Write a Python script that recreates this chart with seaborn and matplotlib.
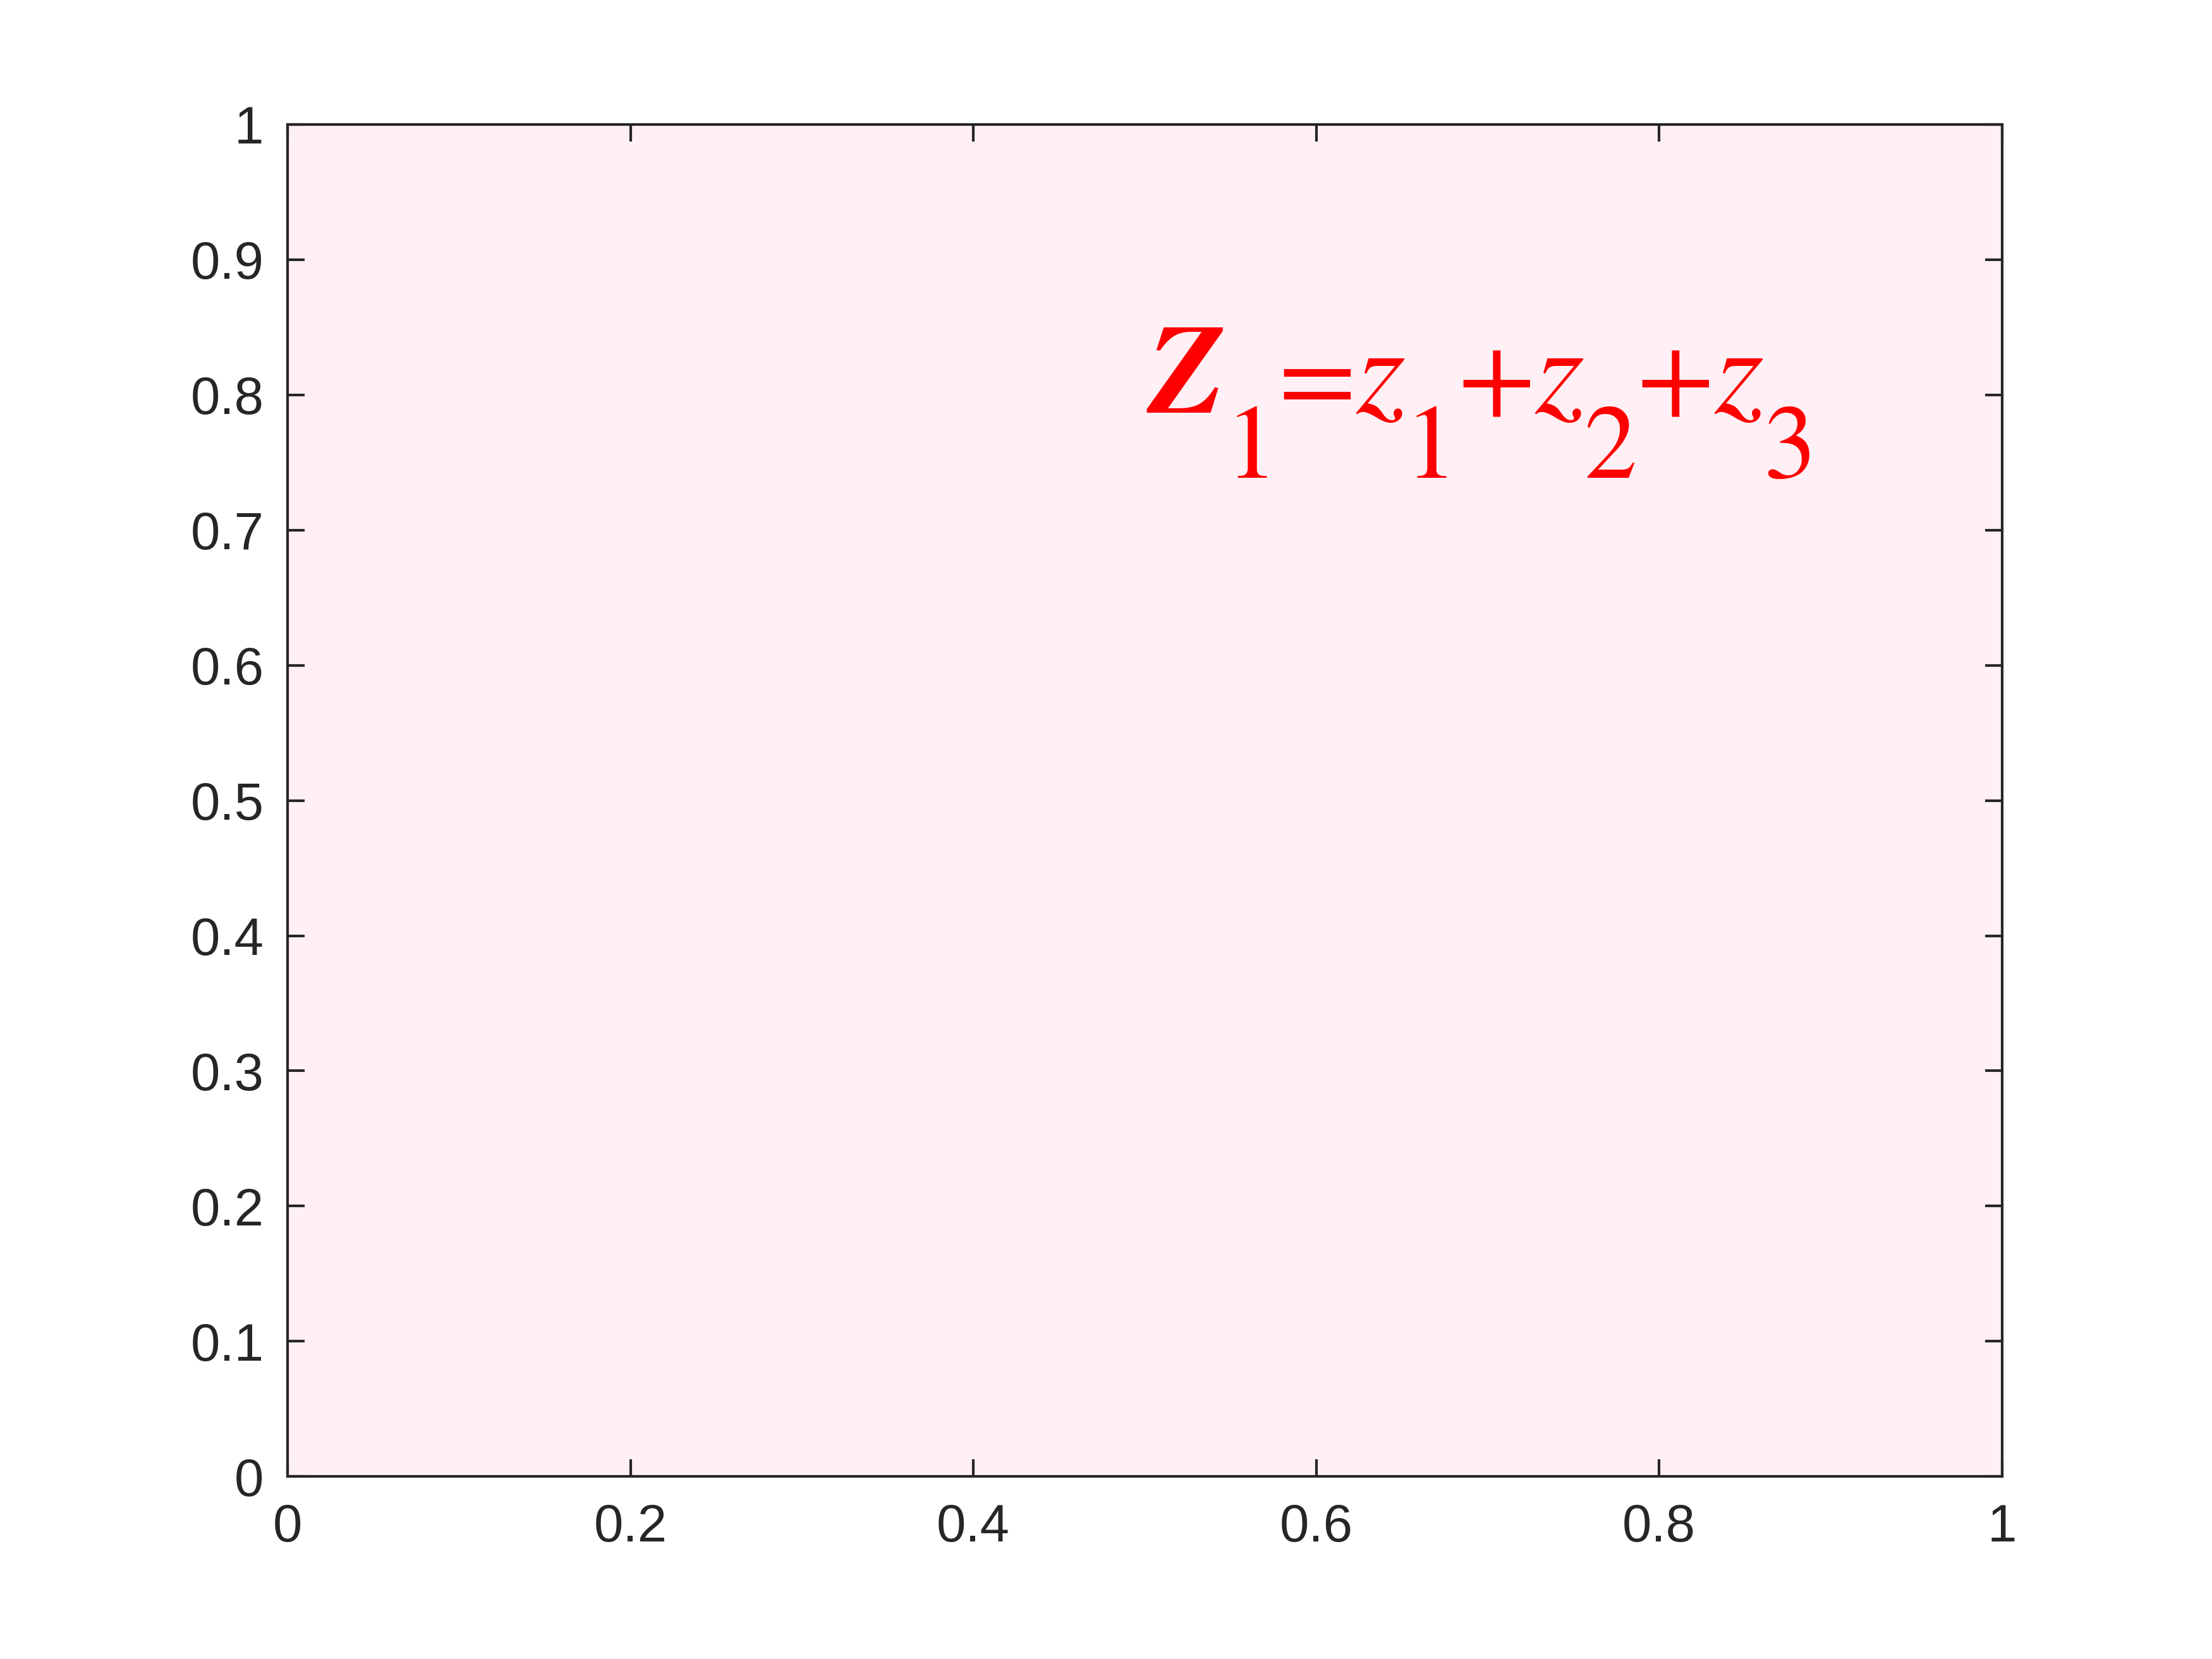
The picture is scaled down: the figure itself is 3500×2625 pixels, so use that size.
import numpy as np
import matplotlib
matplotlib.use("Agg")
import matplotlib.pyplot as plt
import matplotlib.transforms as mtransforms
from matplotlib import font_manager
import seaborn as sns

# valeurs des axes
x_ticks = [0, 0.2, 0.4, 0.6, 0.8, 1]
x_labels = ['0', '0.2', '0.4', '0.6', '0.8', '1']
y_ticks = [0, 0.1, 0.2, 0.3, 0.4, 0.5, 0.6, 0.7, 0.8, 0.9, 1]
y_labels = ['0', '0.1', '0.2', '0.3', '0.4', '0.5', '0.6', '0.7', '0.8', '0.9', '1']

# morceaux de la formule : texte, style, graisse, role
formula_text = ['Z', '1', '=', 'z', '1', '+', 'z', '2', '+', 'z', '3']
formula_style = ['italic', 'normal', 'normal', 'italic', 'normal', 'normal',
                 'italic', 'normal', 'normal', 'italic', 'normal']
formula_weight = ['bold', 'normal', 'normal', 'normal', 'normal', 'normal',
                  'normal', 'normal', 'normal', 'normal', 'normal']
formula_role = ['main', 'sub', 'op', 'main', 'sub', 'op', 'main', 'sub', 'op', 'main', 'sub']
formula_pos = (0.502, 0.787)

sns.set_theme(style="ticks")
plt.rcParams['font.family'] = ['Liberation Sans', 'DejaVu Sans']

# STIXGeneral est livre avec matplotlib (style Times)
serif_family = 'STIXGeneral'
role_size = {'main': 48, 'sub': 40, 'op': 43}
role_dy = {'main': 0, 'sub': -103, 'op': 0}

fig = plt.figure(figsize=(3500 / 300, 2625 / 300), dpi=300)
ax = fig.add_axes([0.13, 0.11, 0.775, 0.815])
ax.set_facecolor('#FFF0F5')
ax.set_xlim(0, 1)
ax.set_ylim(0, 1)
ax.set_xticks(x_ticks)
ax.set_xticklabels(x_labels)
ax.set_yticks(y_ticks)
ax.set_yticklabels(y_labels)

for side in ['top', 'right', 'bottom', 'left']:
    ax.spines[side].set_visible(True)
    ax.spines[side].set_color('#262626')
    ax.spines[side].set_linewidth(1.0)
ax.tick_params(axis='both', direction='in', top=True, right=True,
               length=6.5, width=1.0, color='#262626',
               labelsize=20, labelcolor='#262626')
ax.tick_params(axis='x', pad=10)
ax.tick_params(axis='y', pad=9)

# formule en rouge, placee morceau par morceau
fig.canvas.draw()
renderer = fig.canvas.get_renderer()
px, py = ax.transData.transform(formula_pos)
ident = mtransforms.IdentityTransform()
for s, st, wt, role in zip(formula_text, formula_style, formula_weight, formula_role):
    fp = font_manager.FontProperties(family=serif_family, style=st, weight=wt,
                                     size=role_size[role])
    t = ax.text(px, py + role_dy[role], s, transform=ident, color='red',
                fontproperties=fp, ha='left', va='baseline')
    bb = t.get_window_extent(renderer)
    px = bb.x1

fig.savefig('out.png', dpi=300)
